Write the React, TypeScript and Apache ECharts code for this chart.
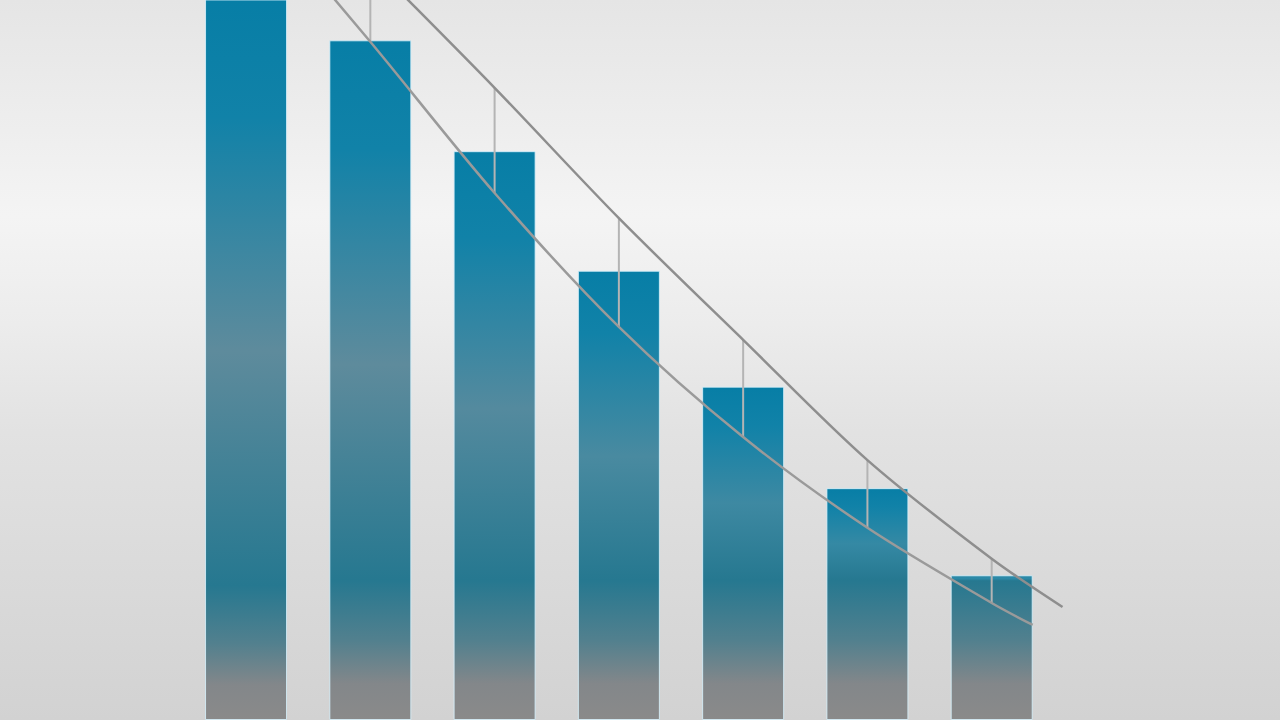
import React, { useEffect, useRef } from "react";
import * as echarts from "echarts";

// Chart data (value scale 0–100 spans the visible plot height)
const categories = ["1", "2", "3", "4", "5", "6", "7"];
const barValues = [104, 94.4, 79.0, 62.4, 46.3, 32.2, 20.1];

const upperX = [0, 1, 2, 3, 4, 5, 6, 6.57];
const upperValues = [122.9, 105.3, 87.8, 69.7, 52.8, 36.1, 22.4, 15.7];

const lowerX = [0, 1, 2, 3, 4, 5, 6, 6.33];
const lowerValues = [114.6, 94.2, 73.2, 54.6, 39.3, 26.7, 16.25, 13.2];

// connectors between the lower and upper curves at each category
const connectorLow = [114.6, 94.2, 73.2, 54.6, 39.3, 26.7, 16.25];
const connectorHigh = [122.9, 105.3, 87.8, 69.7, 52.8, 36.1, 22.4];

function hexToRgb(h: string) {
  const n = parseInt(h.slice(1), 16);
  return [(n >> 16) & 255, (n >> 8) & 255, n & 255];
}
function mix(a: string, b: string, t: number) {
  const A = hexToRgb(a);
  const B = hexToRgb(b);
  const c = A.map((v, i) => Math.round(v + (B[i] - v) * t));
  return "#" + c.map((x) => x.toString(16).padStart(2, "0")).join("");
}
const clamp = (v: number, lo: number, hi: number) => Math.max(lo, Math.min(hi, v));

function barGradient(v: number) {
  const blueU = 19.4;
  const span = v - blueU;
  const topColor = mix("#3d8fa8", "#077ea6", clamp(span / 12, 0, 1));
  const midColor = mix("#2c88a6", "#5e8b9c", clamp(span / 75, 0, 1));
  const raw: [number, string][] = [
    [v, topColor],
    [blueU + span * 0.8, mix(topColor, "#1a86a9", 0.5)],
    [blueU + span * 0.4, midColor],
    [blueU, "#267890"],
    [11, "#52808e"],
    [5, "#83878a"],
    [0, "#8a8a8a"],
  ];
  const stops = raw
    .filter(([u], i) => i === 0 || (u < v && u >= 0))
    .map(([u, color]) => ({ offset: clamp((v - u) / v, 0, 1), color }));
  stops.sort((a, b) => a.offset - b.offset);
  return new echarts.graphic.LinearGradient(0, 0, 0, 1, stops);
}

export default function App() {
  const ref = useRef<HTMLDivElement>(null);

  useEffect(() => {
    if (!ref.current) return;
    const chart = echarts.init(ref.current, undefined, { renderer: "svg" });

    const option: any = {
      animation: false,
      backgroundColor: "transparent",
      grid: { left: 0, right: 0, top: 0, bottom: 0, containLabel: false },
      xAxis: {
        type: "value",
        min: -1.98,
        max: 8.32,
        show: false,
        splitLine: { show: false },
      },
      yAxis: {
        type: "value",
        min: 0,
        max: 100,
        show: false,
        splitLine: { show: false },
      },
      series: [
        {
          type: "bar",
          name: "bars",
          barWidth: 82,
          z: 2,
          clip: true,
          data: barValues.map((v, i) => ({
            name: categories[i],
            value: [i, v],
            itemStyle: {
              color: barGradient(v),
              borderColor: "rgba(214,240,250,0.85)",
              borderWidth: 1,
            },
          })),
        },
        {
          type: "custom",
          name: "connectors",
          z: 3,
          clip: true,
          encode: { x: 0, y: [1, 2] },
          data: connectorLow.map((lo, i) => [i, lo, connectorHigh[i]]),
          renderItem: (params: any, api: any) => {
            const x = api.value(0);
            const p1 = api.coord([x, api.value(1)]);
            const p2 = api.coord([x, api.value(2)]);
            return {
              type: "line",
              shape: { x1: p1[0], y1: p1[1], x2: p2[0], y2: p2[1] },
              style: { stroke: "#b4b4b4", lineWidth: 2 },
            };
          },
        },
        {
          type: "line",
          name: "upper",
          z: 4,
          smooth: 0.3,
          symbol: "none",
          clip: true,
          lineStyle: { color: "#8e8e8e", width: 2.5 },
          data: upperValues.map((v, i) => [upperX[i], v]),
        },
        {
          type: "line",
          name: "lower",
          z: 4,
          smooth: 0.3,
          symbol: "none",
          clip: true,
          lineStyle: { color: "#9a9a9a", width: 2.5 },
          data: lowerValues.map((v, i) => [lowerX[i], v]),
        },
      ],
    };

    chart.setOption(option);
    return () => chart.dispose();
  }, []);

  return (
    <div
      style={{
        position: "fixed",
        left: 0,
        top: 0,
        width: 1280,
        height: 720,
        background:
          "linear-gradient(to bottom, #e5e5e5 0%, #f4f4f4 30%, #ececec 45%, #e2e2e2 60%, #dadada 80%, #d2d2d2 100%)",
      }}
    >
      <div ref={ref} style={{ width: 1280, height: 720 }} />
    </div>
  );
}
